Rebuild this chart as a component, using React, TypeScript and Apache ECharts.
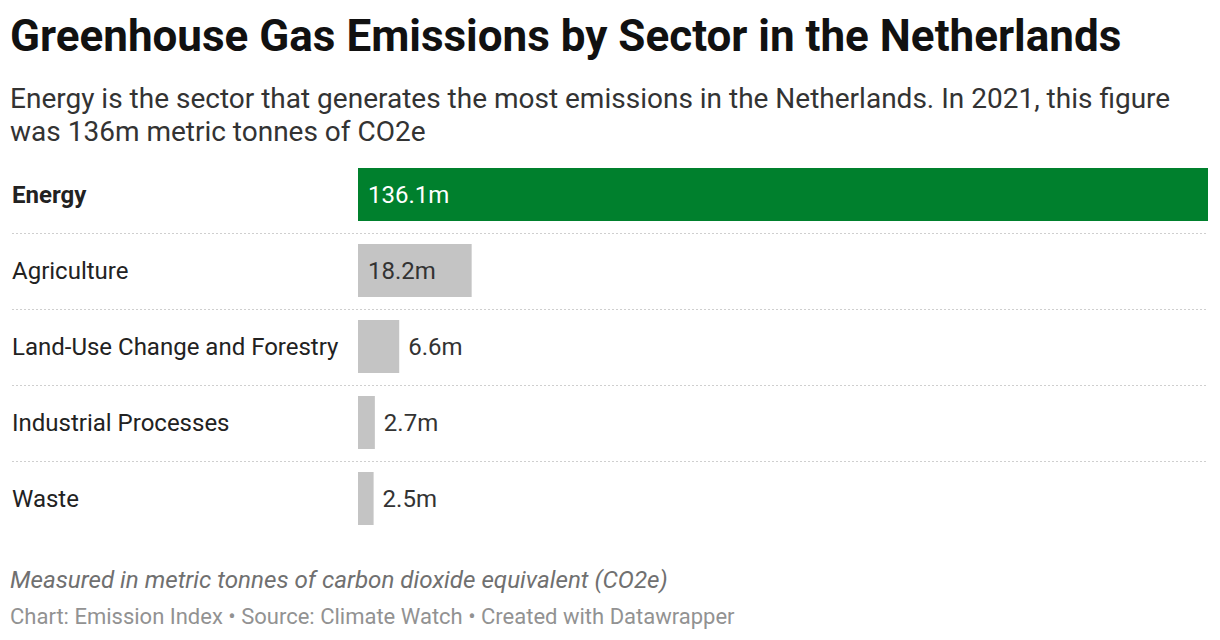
import React, { useEffect, useRef } from "react";
import * as echarts from "echarts";

const categories = ["Energy", "Agriculture", "Land-Use Change and Forestry", "Industrial Processes", "Waste"];
const values = [136.1, 18.2, 6.6, 2.7, 2.5];
const valueLabels = ["136.1m", "18.2m", "6.6m", "2.7m", "2.5m"];
const highlight = "Energy";

const TITLE = "Greenhouse Gas Emissions by Sector in the Netherlands";
const SUB1 = "Energy is the sector that generates the most emissions in the Netherlands. In 2021, this figure";
const SUB2 = "was 136m metric tonnes of CO2e";
const NOTE = "Measured in metric tonnes of carbon dioxide equivalent (CO2e)";
const FOOT = "Chart: Emission Index \u2022 Source: Climate Watch \u2022 Created with Datawrapper";

const FONT = "Roboto, 'Noto Sans', sans-serif";

export default function App() {
  const ref = useRef<HTMLDivElement>(null);
  useEffect(() => {
    if (!ref.current) return;
    const chart = echarts.init(ref.current, null, { renderer: "svg" });
    const gridLeft = 358;
    const gridWidth = 850;
    const txt = (x: number, y: number, text: string, style: any) => ({
      type: "text",
      x,
      y,
      style: { text, fontFamily: FONT, verticalAlign: "middle", align: "left", ...style },
    });
    const baseGraphic = [
      txt(10, 36, TITLE, { fontSize: 44, fontWeight: "bold", fill: "#111" }),
      txt(10, 98, SUB1, { fontSize: 28, fill: "#333" }),
      txt(10, 131, SUB2, { fontSize: 28, fill: "#333" }),
      txt(10, 580, NOTE, { fontSize: 24.2, fontStyle: "italic", fill: "#707070" }),
      txt(10, 616, FOOT, { fontSize: 22, fill: "#929292" }),
    ];
    const option: any = {
      animation: false,
      backgroundColor: "#ffffff",
      textStyle: { fontFamily: FONT },
      grid: { left: gridLeft, width: gridWidth, top: 156.5, height: 380, containLabel: false },
      xAxis: {
        type: "value",
        min: 0,
        max: values[0],
        show: false,
      },
      yAxis: {
        type: "category",
        data: categories,
        inverse: true,
        axisLine: { show: false },
        axisTick: { show: false },
        splitLine: { show: false },
        axisLabel: {
          align: "left",
          margin: gridLeft - 12,
          fontFamily: FONT,
          fontSize: 24,
          color: "#222",
          formatter: (v: string) => (v === highlight ? `{b|${v}}` : `{n|${v}}`),
          rich: {
            b: { fontFamily: FONT, fontSize: 24, fontWeight: "bold", color: "#222" },
            n: { fontFamily: FONT, fontSize: 24, color: "#222" },
          },
        },
      },
      series: [
        {
          type: "bar",
          barWidth: 53,
          data: values.map((v, i) => {
            const inside = v > 10;
            return {
              value: v,
              itemStyle: { color: categories[i] === highlight ? "#00802d" : "#c4c4c4" },
              label: {
                show: true,
                position: inside ? "insideLeft" : "right",
                distance: inside ? 10 : 9,
                formatter: valueLabels[i],
                fontFamily: FONT,
                fontSize: 24,
                color: categories[i] === highlight ? "#ffffff" : "#333",
              },
            };
          }),
        },
      ],
      graphic: baseGraphic,
    };
    chart.setOption(option);
    const lines: any[] = [];
    for (let i = 1; i < categories.length; i++) {
      const a = chart.convertToPixel({ yAxisIndex: 0 } as any, categories[i - 1]) as number;
      const b = chart.convertToPixel({ yAxisIndex: 0 } as any, categories[i]) as number;
      const y = Math.round((a + b) / 2) + 0.5;
      lines.push({
        type: "line",
        shape: { x1: 12, y1: y, x2: gridLeft + gridWidth, y2: y },
        style: { stroke: "#cfcfcf", lineWidth: 1, lineDash: [2, 2] },
        silent: true,
      });
    }
    chart.setOption({ graphic: [...baseGraphic, ...lines] });
    return () => chart.dispose();
  }, []);
  return (
    <div
      ref={ref}
      style={{ position: "absolute", left: 0, top: 0, width: 1220, height: 640 }}
    />
  );
}
